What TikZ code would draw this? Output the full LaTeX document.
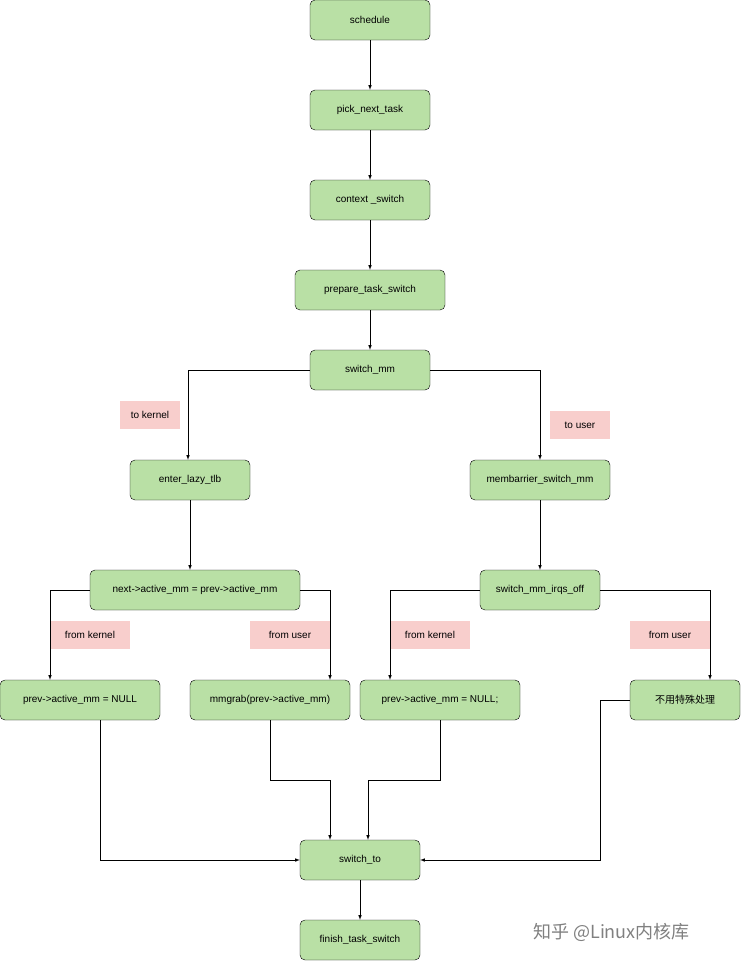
\documentclass[tikz,border=0pt]{standalone}
\usepackage{fontspec}
\setmainfont{Liberation Sans}
\newfontfamily\cjk{Noto Sans CJK SC}
\begin{document}
\begin{tikzpicture}[x=1pt,y=-1pt,
 box/.style={draw=black,fill={rgb,255:red,185;green,224;blue,165},rounded corners=5pt,minimum height=40pt,font=\fontsize{10}{11}\selectfont,inner sep=0pt},
 lab/.style={fill={rgb,255:red,248;green,206;blue,204},minimum width=60pt,minimum height=28pt,font=\fontsize{10}{11}\selectfont,inner sep=0pt},
 arr/.style={-latex,black,line width=0.6pt}]
\useasboundingbox (0,0) rectangle (741,962);
\node[box,minimum width=120pt] (s) at (370,20) {schedule};
\node[box,minimum width=120pt] (p) at (370,110) {pick\_next\_task};
\node[box,minimum width=120pt] (c) at (370,200) {context \_switch};
\node[box,minimum width=150pt] (pt) at (370,290) {prepare\_task\_switch};
\node[box,minimum width=120pt] (sm) at (370,370) {switch\_mm};
\node[box,minimum width=120pt] (el) at (190,480) {enter\_lazy\_tlb};
\node[box,minimum width=140pt] (mb) at (540,480) {membarrier\_switch\_mm};
\node[box,minimum width=210pt] (na) at (195,590) {next->active\_mm = prev->active\_mm};
\node[box,minimum width=120pt] (si) at (540,590) {switch\_mm\_irqs\_off};
\node[box,minimum width=160pt] (n1) at (80,700) {prev->active\_mm = NULL};
\node[box,minimum width=160pt] (mg) at (270,700) {mmgrab(prev->active\_mm)};
\node[box,minimum width=160pt] (n2) at (440,700) {prev->active\_mm = NULL;};
\node[box,minimum width=110pt] (nu) at (685,700) {\cjk 不用特殊处理};
\node[box,minimum width=120pt] (st) at (360,860) {switch\_to};
\node[box,minimum width=120pt] (ft) at (360,940) {finish\_task\_switch};
\node[lab] (l1) at (150,415) {to kernel};
\node[lab] (l2) at (580,425) {to user};
\node[lab,minimum width=80pt] (l3) at (90,635) {from kernel};
\node[lab,minimum width=80pt] (l4) at (290,635) {from user};
\node[lab,minimum width=80pt] (l5) at (430,635) {from kernel};
\node[lab,minimum width=80pt] (l6) at (670,635) {from user};
\node[gray,font=\cjk\fontsize{18}{19}\selectfont,anchor=west,inner sep=0pt] (wm) at (533,932) {知乎 @Linux内核库};
\draw[arr] (s) -- (p);
\draw[arr] (p) -- (c);
\draw[arr] (c) -- (pt);
\draw[arr] (pt) -- (sm);
\draw[arr] (sm.west) -| ([xshift=-2pt]el.north);
\draw[arr] (sm.east) -| (mb.north);
\draw[arr] (el) -- (el|-na.north);
\draw[arr] (mb) -- (si);
\draw[arr] (na.west) -| ([xshift=-30pt]n1.north);
\draw[arr] (na.east) -| ([xshift=60pt]mg.north);
\draw[arr] (si.west) -| ([xshift=-50pt]n2.north);
\draw[arr] (si.east) -| ([xshift=25pt]nu.north);
\draw[arr] ([xshift=20pt]n1.south) |- (st.west);
\draw[arr] (mg.south) -- ++(0,60) -| ([xshift=-30pt]st.north);
\draw[arr] (n2.south) -- ++(0,60) -| ([xshift=8pt]st.north);
\draw[arr] (nu.west) -- ++(-30,0) |- (st.east);
\draw[arr] (st) -- (ft);
\end{tikzpicture}
\end{document}
